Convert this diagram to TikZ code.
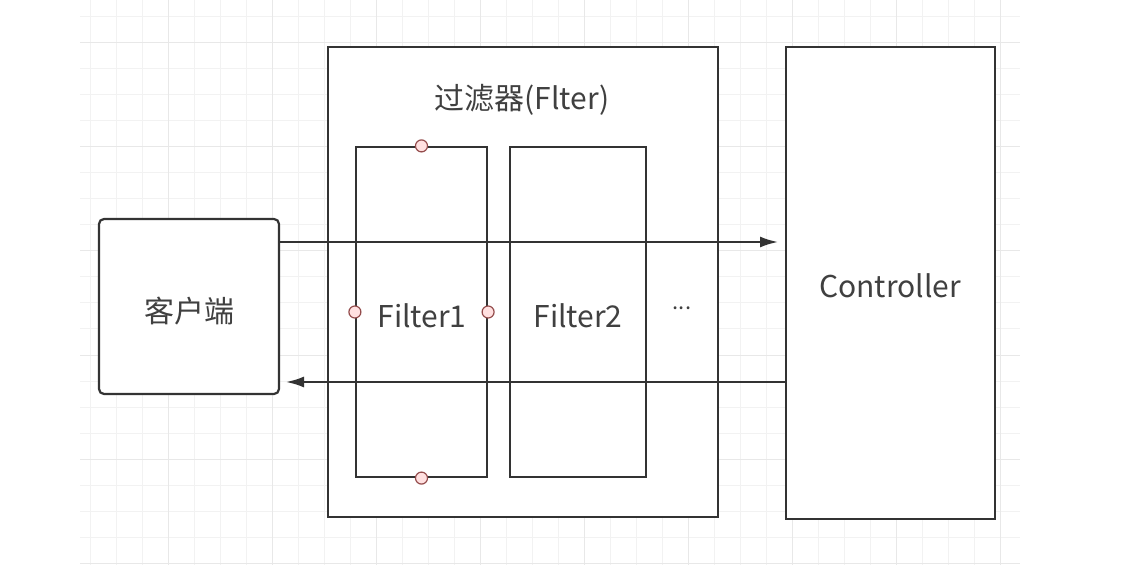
\documentclass[tikz,border=0pt]{standalone}
\usepackage{fontspec}
\setmainfont{Noto Sans CJK SC}
\begin{document}
\begin{tikzpicture}[x=1pt,y=-1pt,
  box/.style={draw=black!80,line width=2.2pt},
  lbl/.style={text=black!75,font=\fontsize{30}{34}\selectfont},
  pin/.style={circle,draw=black!60!red!70,fill=red!12,line width=1.2pt,inner sep=0pt,minimum size=12pt},
  arr/.style={draw=black!80,line width=2.2pt,-{Latex[length=18pt,width=11pt]}}]
\usetikzlibrary{arrows.meta}
\useasboundingbox (0,0) rectangle (1130,569);
\fill[white] (0,0) rectangle (1130,569);
\foreach \x in {90,116,...,1020} \draw[black!5,line width=1pt] (\x,0) -- (\x,565);
\foreach \y in {17,43,...,565} \draw[black!5,line width=1pt] (80,\y) -- (1020,\y);
\foreach \x in {168,272,...,1020} \draw[black!9,line width=1pt] (\x,0) -- (\x,565);
\foreach \y in {43,147,...,565} \draw[black!9,line width=1pt] (80,\y) -- (1020,\y);
\node[box,rounded corners=5pt,fill=white,minimum width=180pt,minimum height=175pt] (client) at (189,306.5) {};
\node[lbl] at (189,311) {客户端};
\node[box,fill=white,minimum width=390pt,minimum height=470pt] (outer) at (523,282) {};
\node[lbl] (title) at (522,100) {过滤器(Flter)};
\node[box,minimum width=131pt,minimum height=330pt] (f1) at (421.5,312) {};
\node[lbl] at (422,316) {Filter1};
\node[box,minimum width=136pt,minimum height=330pt] (f2) at (578,312) {};
\node[lbl] at (578,316) {Filter2};
\node[lbl,font=\fontsize{22}{26}\selectfont] (dots) at (682,308) {...};
\node[box,fill=white,minimum width=209pt,minimum height=472pt] (ctrl) at (890.5,283) {};
\node[lbl] at (890,286) {Controller};
\coordinate (a1) at (279,242); \coordinate (a2) at (778,242);
\coordinate (b1) at (786,382); \coordinate (b2) at (286,382);
\draw[arr] (a1) -- (a2);
\draw[arr] (b1) -- (b2);
\node[pin] at (f1.north) {};
\node[pin] at (f1.south) {};
\node[pin] at (f1.west) {};
\node[pin] at (f1.east) {};
\end{tikzpicture}
\end{document}
